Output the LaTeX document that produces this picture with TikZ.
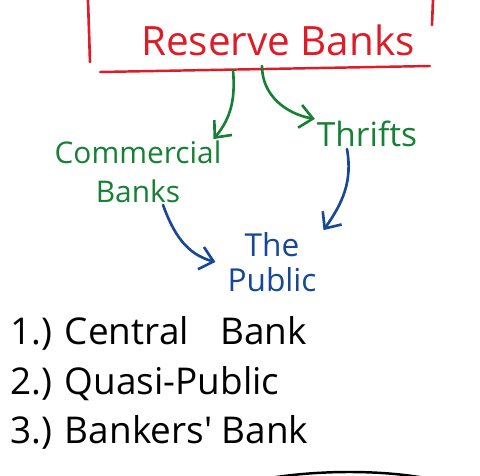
\documentclass[tikz,border=0pt]{standalone}
\usepackage{fontspec}
\setmainfont{Open Sans}
\usetikzlibrary{arrows.meta,positioning}

\definecolor{inkred}{RGB}{222,28,40}
\definecolor{inkgreen}{RGB}{22,128,52}
\definecolor{inkblue}{RGB}{22,72,150}

\begin{document}
\begin{tikzpicture}[
          x=0.2mm, y=-0.2mm,
          word/.style={inner sep=1pt, align=center},
          item/.style={inner sep=0pt, anchor=west, font=\fontsize{21}{22}\selectfont},
          arr/.style={-{Straight Barb[length=2.6mm,width=4.6mm]}, line width=1.5pt, line cap=round}
        ]
        \useasboundingbox (0,0) rectangle (480,476);
        \node[word, text=inkred, font=\fontsize{23}{28}\selectfont] (fed) at (278,40) {Reserve Banks};
        \draw[inkred, line width=1.5pt, line cap=round] (88,0) -- (90,62);
        \draw[inkred, line width=1.5pt, line cap=round] (433,0) -- (432,25);
        \draw[inkred, line width=1.4pt, line cap=round] (100,72) -- (430,66);
        \coordinate (u1) at (233,70);
        \coordinate (u2) at (262,66);
        \node[word, text=inkgreen, font=\fontsize{17}{22}\selectfont] (comm) at (138,172) {Commercial\\Banks};
        \node[word, text=inkgreen, font=\fontsize{19}{22}\selectfont] (thrift) at (367,134) {Thrifts};
        \node[word, text=inkblue, font=\fontsize{18}{20}\selectfont] (public) at (272,262) {The\\Public};
        \draw[arr, inkgreen] (u1) to[out=-85, in=50] ([xshift=-2mm]comm.north east);
        \draw[arr, inkgreen] (u2) to[out=-90, in=170] (thrift.north west);
        \draw[arr, inkblue] ([xshift=5mm]comm.south) to[out=-70, in=165] ([xshift=-2mm]public.west);
        \draw[arr, inkblue] ([xshift=-4mm]thrift.south) to[out=-80, in=55] ([xshift=1mm]public.north east);
        \node[item] (c1) at (10,333) {1.) Central\hspace{0.6em} Bank};
        \node[item] (c2) at (10,384) {2.) Quasi-Public};
        \node[item] (c3) at (10,432) {3.) Bankers\textquotesingle\ Bank};
        \draw[line width=1.4pt] (270,478) .. controls (320,470) and (380,470) .. (425,478);
      \end{tikzpicture}
\end{document}
